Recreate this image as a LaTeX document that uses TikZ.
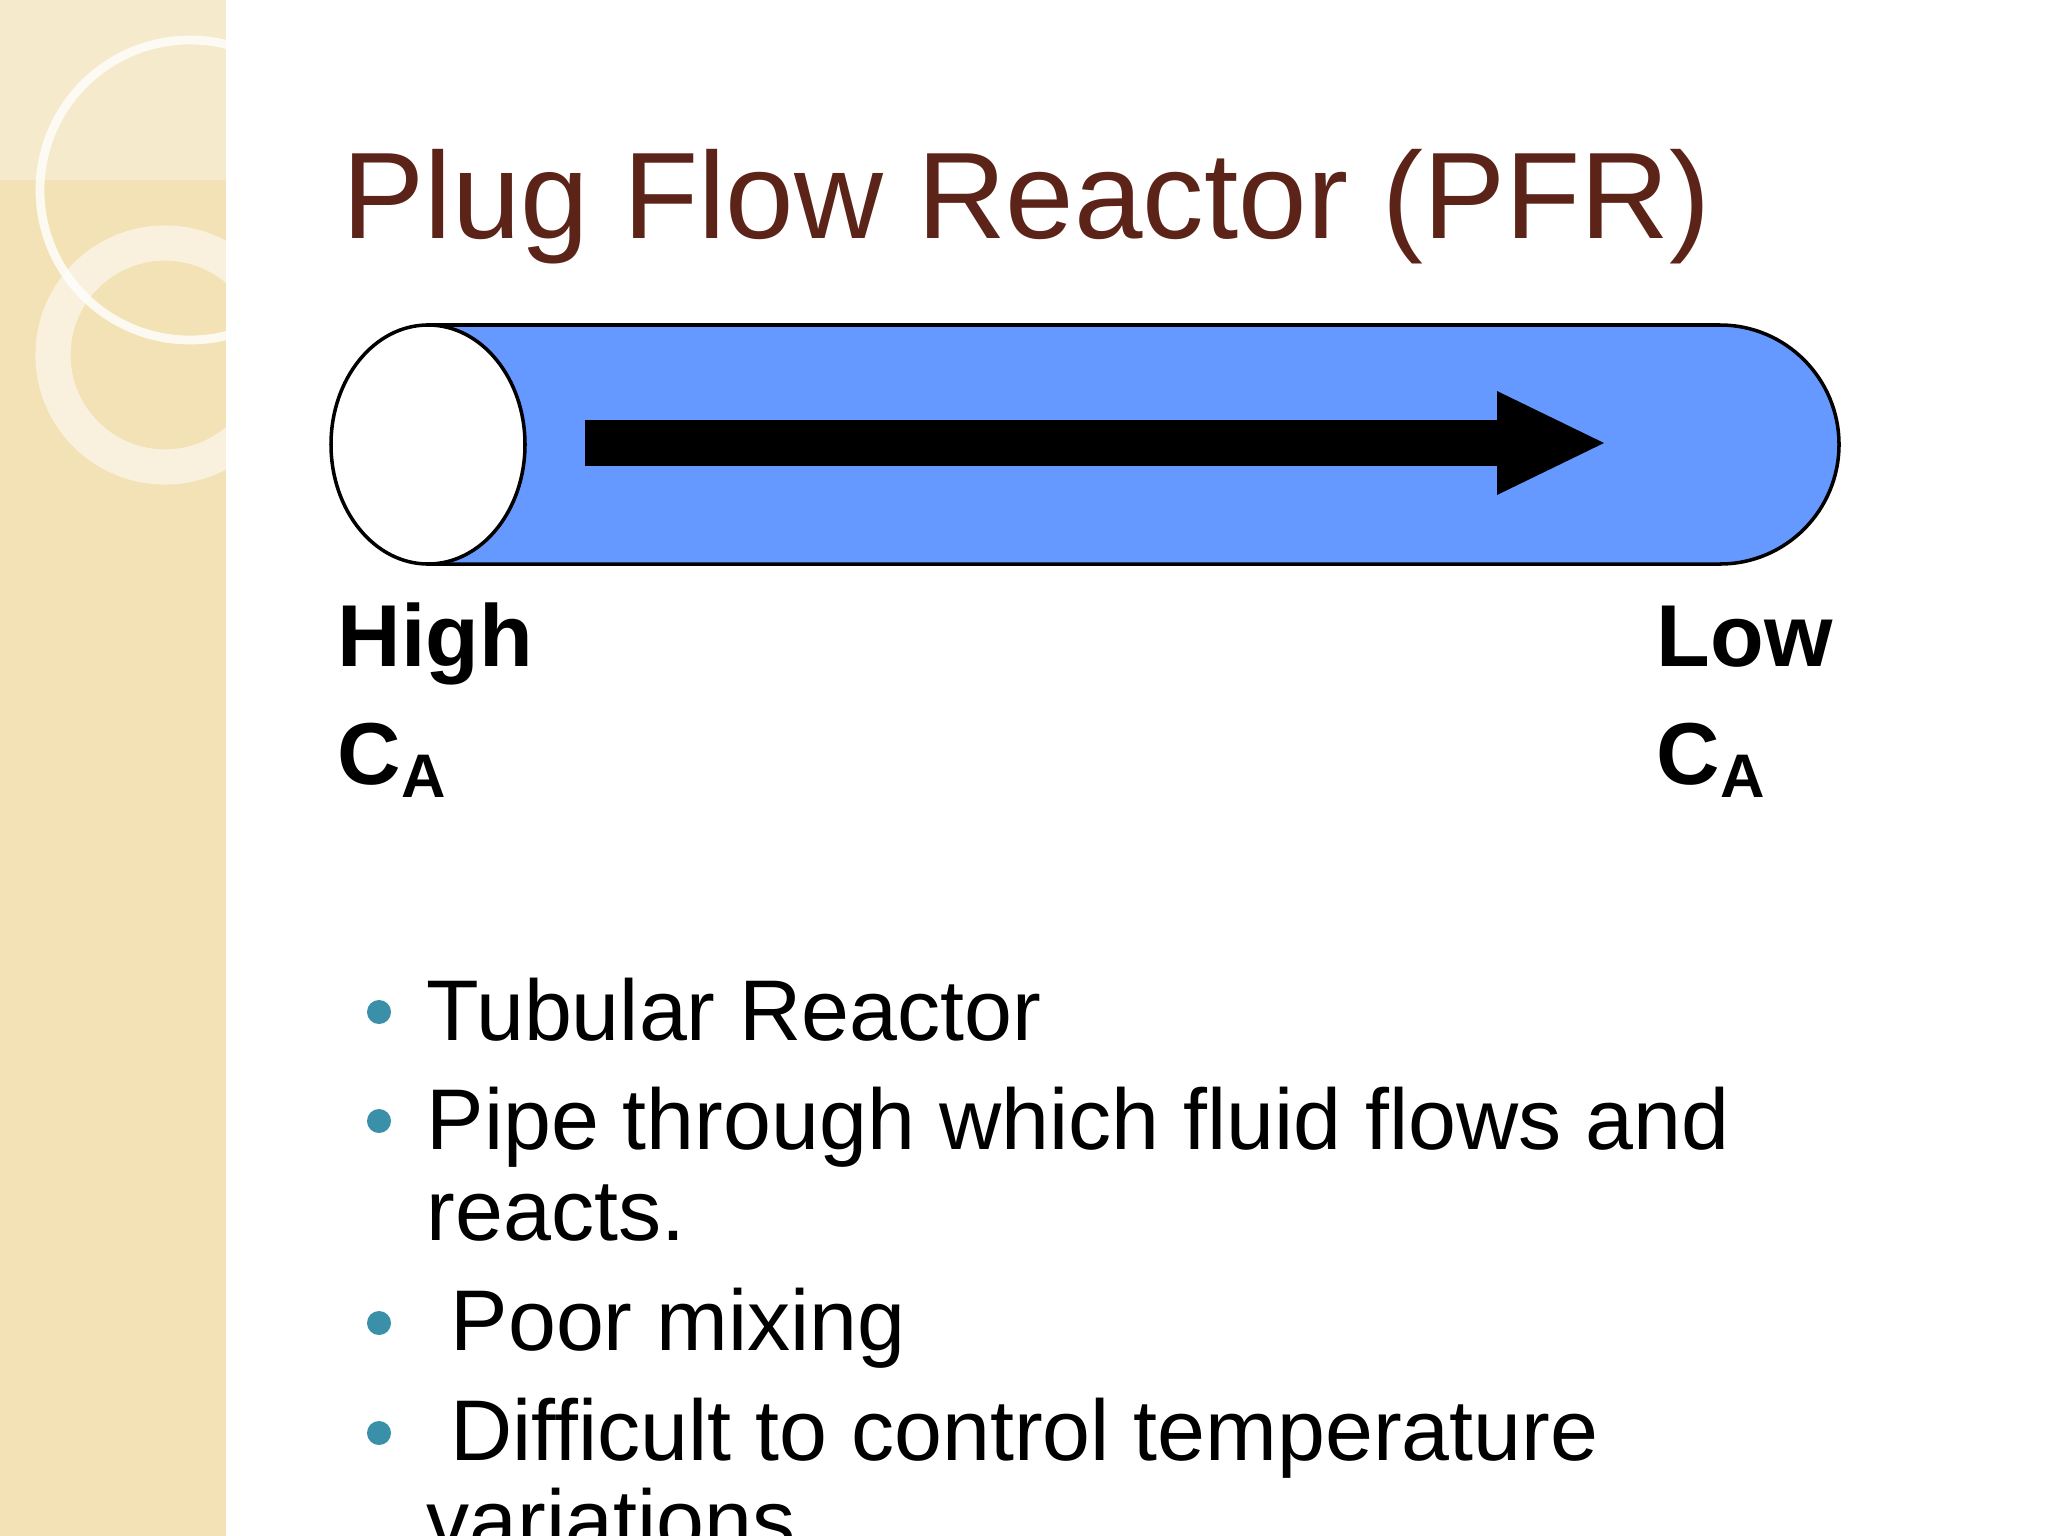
\documentclass[tikz,border=0pt]{standalone}
\usepackage{fontspec}
\setmainfont{Liberation Sans}
\definecolor{beige}{HTML}{F2E2B6}
\definecolor{titlec}{HTML}{5C2418}
\definecolor{tube}{HTML}{6699FF}
\definecolor{bul}{HTML}{3A90A8}
\tikzset{lbl/.style={anchor=base west,font=\fontsize{25}{25}\selectfont\bfseries,inner sep=0},
 item/.style={anchor=base west,font=\fontsize{24.5}{24.5}\selectfont,text=black,inner sep=0},
 dot/.style={circle,fill=bul,inner sep=0pt,minimum size=0.24cm}}
\begin{document}
\begin{tikzpicture}[x=0.01cm,y=-0.01cm]
\useasboundingbox (0,0) rectangle (2048,1536);
\fill[white] (0,0) rectangle (2048,1536);
\fill[beige] (0,0) rectangle (226,1536);
\fill[white,opacity=0.3] (0,0) rectangle (226,180);
\begin{scope}
\clip (0,0) rectangle (226,1536);
\draw[white,line width=2.5pt,opacity=0.8] (190,190) circle (150);
\draw[white,opacity=0.55,line width=10pt] (165,355) circle (112);
\end{scope}
\node[anchor=base west,text=titlec,font=\fontsize{35}{35}\selectfont,inner sep=0] (title) at (342,238) {Plug Flow Reactor (PFR)};
% tube
\draw[fill=tube,line width=1pt] (428,325) -- (1720,325) arc[start angle=-90,end angle=90,x radius=119,y radius=119.5] -- (428,564) -- cycle;
\draw[fill=white,line width=1pt] (428,444.5) ellipse [x radius=97,y radius=119.5];
\coordinate (a1) at (585,443);
\coordinate (a2) at (1604,443);
\draw[line width=13pt] (a1) -- (1500,443);
\fill (1497,391) -- (a2) -- (1497,495) -- cycle;
\node[lbl] (high) at (337,666) {High};
\node[lbl] (ca1) at (337,784) {C\textsubscript{A}};
\node[lbl] (low) at (1656,666) {Low};
\node[lbl] (ca2) at (1656,784) {C\textsubscript{A}};
% bullets
\node[item] (i1) at (426,1040) {Tubular Reactor};
\node[item] (i2) at (426,1149) {Pipe through which fluid flows and};
\node[item] (i2b) at (426,1240) {reacts.};
\node[item] (i3) at (426,1350) {\ Poor mixing};
\node[item] (i4) at (426,1460) {\ Difficult to control temperature};
\node[item] (i4b) at (426,1550) {variations};
\foreach \y in {1012,1121,1323,1433} \node[dot] at (379,\y) {};
\end{tikzpicture}
\end{document}
